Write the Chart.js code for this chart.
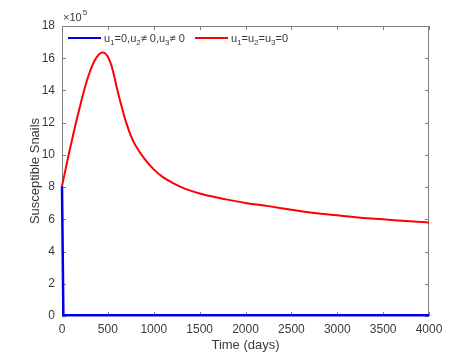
<!DOCTYPE html>
<html>
<head>
<meta charset="utf-8">
<script src="https://cdn.jsdelivr.net/npm/chart.js@4/dist/chart.umd.min.js"></script>
<style>
html,body{margin:0;padding:0;background:#fff;}
canvas{display:block;}
</style>
</head>
<body>
<canvas id="c" width="474" height="355"></canvas>
<script>
// ---- data (values in units of 10^5) ----
const timeDays = [0, 50, 100, 150, 200, 250, 300, 350, 400, 440, 480, 520, 560, 600, 650, 700, 750, 800, 900, 1000, 1100, 1200, 1300, 1400, 1500, 1600, 1750, 2000, 2250, 2500, 2750, 3000, 3250, 3500, 3750, 4000];
const noControl = [8.06, 9.4, 10.7, 11.95, 13.1, 14.2, 15.1, 15.8, 16.22, 16.35, 16.25, 15.85, 15.1, 14.1, 13.0, 12.0, 11.2, 10.6, 9.75, 9.1, 8.62, 8.28, 8.0, 7.78, 7.6, 7.46, 7.28, 7.02, 6.82, 6.6, 6.4, 6.25, 6.1, 6.0, 5.9, 5.8];
const withControlTime = [0, 15, 4000];
const withControl = [8.06, 0.04, 0.04];
const xTicks = [0, 500, 1000, 1500, 2000, 2500, 3000, 3500, 4000];
const yTicks = [0, 2, 4, 6, 8, 10, 12, 14, 16, 18];
const seriesNames = [["u", "1", "=0,u", "2", "\u2260 0,u", "3", "\u2260 0"], ["u", "1", "=u", "2", "=u", "3", "=0"]];
const xTitle = "Time (days)";
const yTitle = "Susceptible Snails";

const toPts = (xs, ys) => xs.map((x, i) => ({x: x, y: ys[i]}));
const FONT = "'Liberation Sans', Arial, sans-serif";
const AXIS = "#7f7f7f";
const TXT = "#3a3a3a";

const boxPlugin = {
  id: 'box',
  beforeDatasetsDraw(chart) {
    const {ctx, chartArea: a, scales: {x, y}} = chart;
    ctx.save();
    ctx.strokeStyle = AXIS;
    ctx.lineWidth = 1;
    ctx.strokeRect(a.left + 0.5, a.top + 0.5, a.right - a.left - 1, a.bottom - a.top - 1);
    const L = 4;
    ctx.beginPath();
    xTicks.forEach(v => {
      const p = Math.round(x.getPixelForValue(v)) + 0.5;
      ctx.moveTo(p, a.bottom); ctx.lineTo(p, a.bottom - L);
      ctx.moveTo(p, a.top); ctx.lineTo(p, a.top + L);
    });
    yTicks.forEach(v => {
      const p = Math.round(y.getPixelForValue(v)) + 0.5;
      ctx.moveTo(a.left, p); ctx.lineTo(a.left + L, p);
      ctx.moveTo(a.right, p); ctx.lineTo(a.right - L, p);
    });
    ctx.stroke();
    ctx.restore();
  },
  afterDraw(chart) {
    const {ctx, chartArea: a} = chart;
    ctx.save();
    ctx.fillStyle = TXT;
    ctx.textBaseline = 'alphabetic';
    // exponent label
    ctx.font = "11px " + FONT;
    ctx.fillText("\u00d710", a.left + 1, a.top - 5);
    const w = ctx.measureText("\u00d710").width;
    ctx.font = "8px " + FONT;
    ctx.fillText("5", a.left + 1 + w + 1, a.top - 11);
    // legend
    const items = [
      {col: chart.data.datasets[1].borderColor, parts: seriesNames[0], x0: a.left + 6},
      {col: chart.data.datasets[0].borderColor, parts: seriesNames[1], x0: a.left + 133}
    ];
    const ly = a.top + 12;
    items.forEach(it => {
      ctx.strokeStyle = it.col;
      ctx.lineWidth = 2;
      ctx.beginPath();
      ctx.moveTo(it.x0, ly); ctx.lineTo(it.x0 + 33, ly);
      ctx.stroke();
      let tx = it.x0 + 36;
      it.parts.forEach((s, i) => {
        const sub = i % 2 === 1;
        ctx.font = (sub ? "8px " : "11px ") + FONT;
        ctx.fillText(s, tx, sub ? ly + 7 : ly + 4);
        tx += ctx.measureText(s).width;
      });
    });
    ctx.restore();
  }
};

new Chart(document.getElementById('c'), {
  type: 'line',
  data: {
    datasets: [
      {label: 'u1=u2=u3=0', data: toPts(timeDays, noControl), borderColor: '#ff0000', borderWidth: 2, pointRadius: 0, tension: 0.4, clip: false, order: 2},
      {label: 'u1=0,u2≠0,u3≠0', data: toPts(withControlTime, withControl), borderColor: '#0000e6', borderWidth: 2.5, pointRadius: 0, tension: 0, clip: false, order: 1}
    ]
  },
  options: {
    responsive: false,
    animation: false,
    events: [],
    layout: {padding: {left: 0, top: 26, right: 45, bottom: 0}},
    plugins: {legend: {display: false}, tooltip: {enabled: false}},
    scales: {
      x: {
        type: 'linear', min: 0, max: 4000,
        afterBuildTicks: s => { s.ticks = xTicks.map(v => ({value: v})); },
        afterFit: s => { s.height = 39; },
        grid: {display: false, drawTicks: false},
        border: {display: false},
        ticks: {color: TXT, font: {family: FONT, size: 12}, padding: 6, maxRotation: 0, callback: v => String(v)},
        title: {display: true, text: xTitle, color: TXT, font: {family: FONT, size: 13}, padding: {top: 0, bottom: 2}}
      },
      y: {
        type: 'linear', min: 0, max: 18,
        afterBuildTicks: s => { s.ticks = yTicks.map(v => ({value: v})); },
        afterFit: s => { s.width = 62; },
        grid: {display: false, drawTicks: false},
        border: {display: false},
        ticks: {color: TXT, font: {family: FONT, size: 12}, padding: 7, callback: v => String(v)},
        title: {display: true, text: yTitle, color: TXT, font: {family: FONT, size: 13}, padding: {top: 28, bottom: 0}}
      }
    }
  },
  plugins: [boxPlugin]
});
</script>
</body>
</html>
